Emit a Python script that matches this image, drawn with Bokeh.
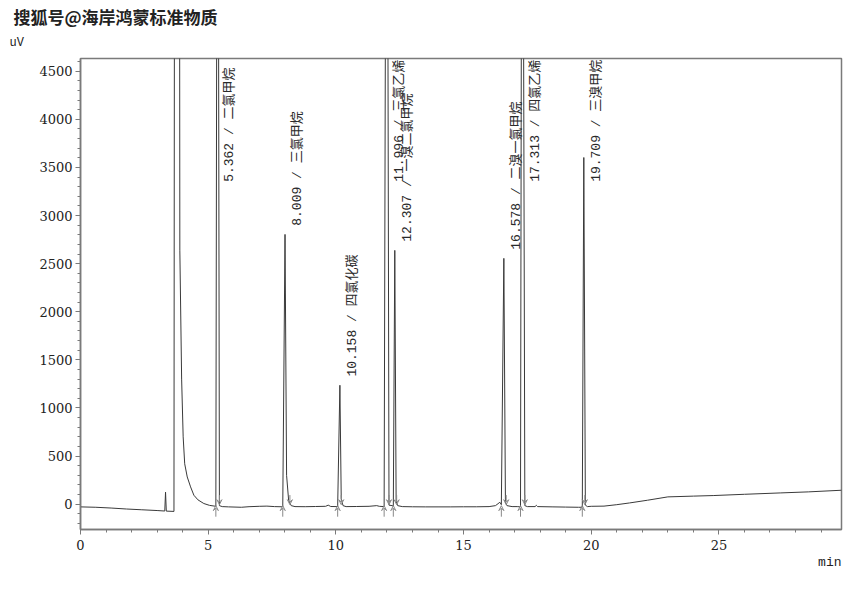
import numpy as np
from bokeh.plotting import figure
from bokeh.models import (Range1d, SingleIntervalTicker, Title, ColumnDataSource,
                          Arrow, VeeHead)
from bokeh.core.properties import value
from bokeh.embed import file_html
from bokeh.resources import INLINE

# ---- chromatogram trace (time in min, signal in uV) ----
trace_time = [
    0.0, 0.6, 1.2, 1.8, 2.4, 3.0, 3.30, 3.33, 3.36, 3.66, 3.68, 3.88, 3.89,
    3.96, 4.02, 4.08, 4.18, 4.31, 4.44, 4.6, 4.83, 5.05, 5.30,
    5.34, 5.40, 5.44, 5.55, 5.8, 6.3, 6.6, 7.0, 7.3, 7.6, 7.92,
    8.009, 8.07, 8.15, 8.25, 8.4, 8.8, 9.2, 9.6, 9.7, 9.8, 10.07,
    10.158, 10.21, 10.28, 10.4, 10.8, 11.3, 11.6, 11.7, 11.89,
    11.95, 12.03, 12.08, 12.2, 12.25,
    12.307, 12.36, 12.42, 12.6, 13.0, 13.5, 14.0, 14.5, 15.0, 15.5, 16.0,
    16.25, 16.35, 16.42, 16.48,
    16.578, 16.64, 16.7, 16.9, 17.1, 17.23,
    17.27, 17.34, 17.40, 17.5, 17.8, 17.85, 17.9, 18.5, 19.0, 19.5, 19.65,
    19.709, 19.77, 19.85, 20.0, 20.5, 21.0, 21.5, 22.2, 23.0, 24.0,
    24.8, 26.0, 27.4, 28.5, 29.8,
]
trace_signal = [
    -28, -32, -40, -50, -58, -66, -71, 125, -72, -75, 6000, 6000, 2640,
    1300, 700, 420, 283, 180, 93, 45, 7, -12, -22,
    6000, 6000, -15, -25, -28, -32, -26, -22, -20, -25, -27,
    2804, 300, 40, -15, -25, -26, -24, -22, -10, -24, -25,
    1236, 60, -15, -25, -24, -22, -15, -22, -25,
    6000, 6000, -10, -15, -20,
    2638, 30, -15, -25, -27, -28, -28, -28, -27, -27, -25,
    -15, 5, 20, -5,
    2555, 20, -15, -25, -25, -28,
    6000, 6000, -15, -25, -25, -12, -25, -28, -30, -32, -32,
    3603, -10, -25, -22, -20, -5, 13, 41, 76, 84,
    90, 103, 117, 128, 145,
]

# ---- integrated peaks ----
peak_rt = [5.362, 8.009, 10.158, 11.996, 12.307, 16.578, 17.313, 19.709]
peak_height = [6000, 2804, 1236, 6000, 2638, 2555, 6000, 3603]
peak_name = ["二氯甲烷", "三氯甲烷", "四氯化碳", "三氯乙烯",
             "一溴二氯甲烷", "二溴一氯甲烷", "四氯乙烯", "三溴甲烷"]
peak_start = [5.30, 7.92, 10.07, 11.89, 12.25, 16.48, 17.23, 19.65]
peak_end = [5.44, 8.20, 10.21, 12.08, 12.38, 16.67, 17.40, 19.75]

x_ticks_interval = 5
y_ticks_interval = 500

p = figure(width=847, height=590, output_backend="svg", toolbar_location=None,
           x_range=Range1d(0, 29.8), y_range=Range1d(-263, 4632),
           min_border_left=80, min_border_right=6, min_border_top=58,
           min_border_bottom=61)
p.xgrid.visible = False
p.ygrid.visible = False
p.background_fill_color = "white"
p.border_fill_color = "white"
p.outline_line_color = "#7a7a7a"
p.outline_line_width = 1.5

# trace
p.line(trace_time, trace_signal, line_color="#3a3a3a", line_width=1)

# baseline markers (start / end arrows)
arr_src_up = ColumnDataSource(dict(x=peak_start, y0=[-130] * len(peak_start),
                                   y1=[-15] * len(peak_start)))
arr_src_dn = ColumnDataSource(dict(x=peak_end, y0=[95] * len(peak_end),
                                   y1=[-5] * len(peak_end)))
for src in (arr_src_up, arr_src_dn):
    p.add_layout(Arrow(source=src, x_start="x", y_start="y0", x_end="x", y_end="y1",
                       line_color="#888888", line_width=1,
                       end=VeeHead(size=5, line_color="#888888", line_width=1,
                                   fill_color=None)))

# peak labels
lab_text = [f"{rt:.3f} / {nm}" for rt, nm in zip(peak_rt, peak_name)]
lab_y = [min(h + 90, 3350) for h in peak_height]
p.text(x=peak_rt, y=lab_y, text=lab_text, angle=np.pi / 2, x_offset=5,
       text_align="left", text_baseline="top",
       text_font=value("Liberation Mono, Noto Sans CJK SC"),
       text_font_size="13px", text_color="#2a2a2a")

# axes
p.xaxis.ticker = SingleIntervalTicker(interval=x_ticks_interval, num_minor_ticks=5)
p.yaxis.ticker = SingleIntervalTicker(interval=y_ticks_interval, num_minor_ticks=5)
for ax in (p.xaxis[0], p.yaxis[0]):
    ax.axis_line_color = "#7a7a7a"
    ax.axis_line_width = 1.5
    ax.major_tick_line_color = "#7a7a7a"
    ax.minor_tick_line_color = "#7a7a7a"
    ax.major_tick_out = 5
    ax.major_tick_in = 0
    ax.minor_tick_out = 3
    ax.minor_tick_in = 0
    ax.major_label_text_font = "DejaVu Serif"
    ax.major_label_text_font_size = "13px"
    ax.major_label_text_color = "#222222"
p.yaxis.major_label_standoff = 3
p.xaxis.major_label_standoff = 5

# texts around the frame, as titles
p.title.text = "搜狐号@海岸鸿蒙标准物质"
p.title.text_font = "Noto Sans CJK SC"
p.title.text_font_size = "17px"
p.title.text_font_style = "bold"
p.title.text_color = "#222222"
p.title.align = "left"
p.title.offset = -67
p.title.standoff = 0

p.add_layout(Title(text="uV", text_font="Liberation Mono", text_font_size="12px",
                   text_font_style="normal", text_color="#222222", align="left",
                   vertical_align="top", offset=-71, standoff=14), "above")
p.add_layout(Title(text="min", text_font="Liberation Mono", text_font_size="13px",
                   text_font_style="normal", text_color="#222222", align="right",
                   offset=0, standoff=0), "below")

open("out.html", "w").write(file_html(p, INLINE))
